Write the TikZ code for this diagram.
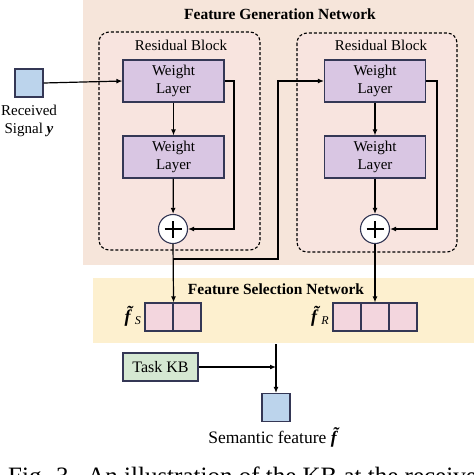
\documentclass[tikz,border=0pt]{standalone}
\usepackage{amsmath}
\usepackage{fontspec}
\setmainfont{Liberation Serif}
\usetikzlibrary{arrows.meta}
\definecolor{fgbg}{RGB}{246,229,218}
\definecolor{rbc}{RGB}{248,228,223}
\definecolor{fsbg}{RGB}{253,240,207}
\definecolor{edge}{RGB}{52,55,85}
\definecolor{wlc}{RGB}{217,198,227}
\definecolor{bluec}{RGB}{188,212,236}
\definecolor{pinkc}{RGB}{243,214,222}
\definecolor{greenc}{RGB}{213,232,210}
\newcommand{\ftil}{\textbf{\textit{\~f}}}
\begin{document}
\begin{tikzpicture}[x=1pt,y=-1pt,
  box/.style={draw=edge,line width=1.1pt,inner sep=0pt,font=\fontsize{15}{18.5}\selectfont,align=center},
  wl/.style={box,fill=wlc,minimum width=101pt,minimum height=42pt},
  sq/.style={box,fill=bluec,minimum size=28pt},
  cell/.style={box,fill=pinkc,minimum width=28pt,minimum height=28pt},
  pl/.style={circle,draw=edge,fill=white,line width=1.1pt,minimum size=29pt,inner sep=0pt,
    path picture={\draw[line width=2.4pt,black] ([xshift=-8.5pt]path picture bounding box.center) -- ([xshift=8.5pt]path picture bounding box.center);
                  \draw[line width=2.4pt,black] ([yshift=-8.5pt]path picture bounding box.center) -- ([yshift=8.5pt]path picture bounding box.center);}},
  conn/.style={line width=1.2pt,black},
  arr/.style={conn,-{Latex[length=6pt,width=5pt]}},
  lbl/.style={font=\fontsize{15}{18}\selectfont,align=center,inner sep=0pt},
  ttl/.style={font=\fontsize{15.5}{18}\selectfont\bfseries,inner sep=0pt},
  rb/.style={draw=black,dash pattern=on 3pt off 2pt,line width=1.1pt,rounded corners=10pt,fill=rbc}]
\useasboundingbox (0,0) rectangle (474,475);
\clip (0,0) rectangle (474,475);
% backgrounds
\fill[fgbg] (83,0) rectangle (474,265);
\fill[fsbg] (93,278) rectangle (474,343);
\draw[rb] (99,32) rectangle (260,250);
\draw[rb] (297,33) rectangle (457,252);
% titles
\node[ttl] (tg) at (280,14) {Feature Generation Network};
\node[ttl] (ts) at (276,289) {Feature Selection Network};
\node[lbl] (rb1) at (181,45) {Residual Block};
\node[lbl] (rb2) at (381,45) {Residual Block};
% input
\node[sq] (in) at (29,83) {};
\node[lbl] (rx) at (29,121) {Received\\Signal \textbf{\textit{y}}};
% block 1
\node[wl] (w1a) at (173.5,81) {Weight\\Layer};
\node[wl] (w1b) at (173.5,157) {Weight\\Layer};
\node[pl] (p1) at (173,229) {};
% block 2
\node[wl] (w2a) at (375,81) {Weight\\Layer};
\node[wl] (w2b) at (375,157) {Weight\\Layer};
\node[pl] (p2) at (375,229) {};
% selection cells
\node[cell] (s1) at (159,317) {};
\node[cell] (s2) at (187,317) {};
\node[cell] (r1) at (347,317) {};
\node[cell] (r2) at (375,317) {};
\node[cell] (r3) at (403,317) {};
\node[lbl,font=\fontsize{18}{18}\selectfont,anchor=east] (fs) at (141,316) {\ftil\kern-3pt\raisebox{-2.5pt}{\fontsize{12}{12}\selectfont\textit{S}}};
\node[lbl,font=\fontsize{18}{18}\selectfont,anchor=east] (fr) at (329,316) {\ftil\kern-3pt\raisebox{-2.5pt}{\fontsize{12}{12}\selectfont\textit{R}}};
% KB and output
\node[box,fill=greenc,minimum width=75pt,minimum height=28pt,font=\fontsize{16}{18}\selectfont] (kb) at (160.5,367) {Task KB};
\coordinate (top) at (276,344);
\node[sq] (sem) at (276,407.5) {};
\node[lbl,font=\fontsize{17.5}{20}\selectfont] (semt) at (276,437) {Semantic feature \ftil};
% connectors
\draw[arr] (in.east) -- (w1a.west);
\draw[arr] (w1a) -- (w1b);
\draw[arr] (w1b) -- (p1);
\coordinate (k1) at (234,81);
\draw[arr] (w1a.east) -- (k1) |- (p1.east);
\draw[arr] (w2a) -- (w2b);
\draw[arr] (w2b) -- (p2);
\coordinate (k2) at (437,81);
\draw[arr] (w2a.east) -- (k2) |- (p2.east);
\draw[arr] (p1.south) -- (s1.north east);
\coordinate (j1) at (173,259);
\coordinate (j2) at (278,259);
\draw[arr] (j1) -- (j2) |- (w2a.west);
\draw[arr] (p2.south) -- (r2.north);
\draw[arr] (top) -- (sem.north);
\draw[arr] (kb.east) -- (kb.east -| top);
% caption (cut off)
\node[anchor=base west,inner sep=0pt,font=\fontsize{25}{28}\selectfont] (cap) at (8,484) {Fig. 3.\ \ An illustration of the KB at the receiver};
\end{tikzpicture}
\end{document}
